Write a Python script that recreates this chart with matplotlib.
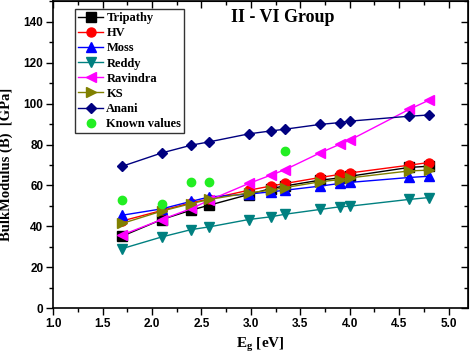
import matplotlib
matplotlib.use("Agg")
import matplotlib.pyplot as plt
from matplotlib.ticker import MultipleLocator

# band gap values (eV)
eg = [1.7, 2.1, 2.4, 2.58, 2.98, 3.2, 3.35, 3.7, 3.9, 4.0, 4.6, 4.8]

tripathy = [35.3, 43.4, 48.0, 50.4, 55.6, 58.5, 59.8, 62.6, 63.7, 64.5, 68.8, 69.4]
hv = [42.7, 47.8, 51.6, 53.4, 57.7, 59.7, 61.0, 63.9, 65.4, 66.1, 69.9, 71.2]
moss = [45.5, 48.6, 52.3, 54.4, 55.8, 56.9, 57.7, 59.7, 61.0, 61.5, 63.9, 64.5]
reddy = [29.2, 34.9, 38.5, 39.8, 43.4, 44.7, 46.0, 48.3, 49.6, 49.9, 53.2, 54.1]
ravindra = [35.9, 43.4, 48.8, 52.8, 61.0, 65.0, 67.8, 75.9, 80.1, 82.1, 97.1, 101.6]
ks = [41.5, 47.5, 51.2, 53.2, 56.4, 57.7, 59.0, 61.8, 62.9, 63.7, 67.1, 67.5]
anani = [69.4, 75.9, 79.7, 81.3, 85.2, 86.6, 87.5, 89.8, 90.7, 91.4, 93.8, 94.4]

known_eg = [1.7, 2.1, 2.4, 2.58, 3.35]
known_b = [52.8, 51.0, 61.8, 61.8, 76.9]

serif = "Liberation Serif"
sans = "Liberation Sans"

fig = plt.figure(figsize=(4.74, 3.62), dpi=100)
ax = fig.add_axes([0.112, 0.148, 0.876, 0.849])

series = [
    ("Tripathy", tripathy, "black", "s"),
    ("HV", hv, "red", "o"),
    ("Moss", moss, "blue", "^"),
    ("Reddy", reddy, "#008080", "v"),
    ("Ravindra", ravindra, "magenta", "<"),
    ("KS", ks, "#808000", ">"),
    ("Anani", anani, "#000080", "D"),
]
for name, vals, col, mk in series:
    ms = 5.5 if mk == "D" else 6.5
    ax.plot(eg, vals, color=col, marker=mk, markersize=ms, linewidth=1.0,
            label=name)

ax.plot(known_eg, known_b, linestyle="none", marker="o", color="#22ee22",
        markersize=6, label="Known values")

ax.set_xlim(1.0, 5.2)
ax.set_ylim(0, 150)
ax.xaxis.set_major_locator(MultipleLocator(0.5))
ax.xaxis.set_minor_locator(MultipleLocator(0.25))
ax.yaxis.set_major_locator(MultipleLocator(20))
ax.yaxis.set_minor_locator(MultipleLocator(10))
ax.tick_params(which="both", direction="out", width=1.0,
               labelsize=8.5, pad=2)
ax.tick_params(which="major", length=5)
ax.tick_params(which="minor", length=3)
for lab in ax.get_xticklabels() + ax.get_yticklabels():
    lab.set_fontfamily(sans)
    lab.set_fontweight("bold")

# inward ticks on top and right
ax2 = ax.secondary_xaxis("top")
ax2.xaxis.set_major_locator(MultipleLocator(0.5))
ax2.xaxis.set_minor_locator(MultipleLocator(0.25))
ax2.tick_params(which="both", direction="in", labeltop=False, width=1.0)
ax2.tick_params(which="major", length=5)
ax2.tick_params(which="minor", length=3)
ay2 = ax.secondary_yaxis("right")
ay2.yaxis.set_major_locator(MultipleLocator(20))
ay2.yaxis.set_minor_locator(MultipleLocator(10))
ay2.tick_params(which="both", direction="in", labelright=False, width=1.0)
ay2.tick_params(which="major", length=5)
ay2.tick_params(which="minor", length=3)

for sp in ax.spines.values():
    sp.set_linewidth(1.2)

ax.set_xlabel(r"E$_\mathregular{g}$ [eV]", fontfamily=serif,
              fontweight="bold", fontsize=11, labelpad=4)
ax.set_ylabel("BulkModulus (B)  [GPa]", fontfamily=serif,
              fontweight="bold", fontsize=10.5)
ax.yaxis.set_label_coords(-0.097, 0.47)

ax.text(0.554, 0.945, "II - VI Group", transform=ax.transAxes,
        fontfamily=serif, fontweight="bold", fontsize=13,
        ha="center", va="center")

leg = ax.legend(loc="upper left", bbox_to_anchor=(0.053, 0.974),
                prop={"family": serif, "weight": "bold", "size": 9},
                frameon=True, fancybox=False, edgecolor="black",
                handlelength=2.0, handletextpad=0.25, labelspacing=0.25,
                borderpad=0.25, borderaxespad=0.0)
leg.get_frame().set_linewidth(1.0)

fig.savefig("out.png", dpi=100)
